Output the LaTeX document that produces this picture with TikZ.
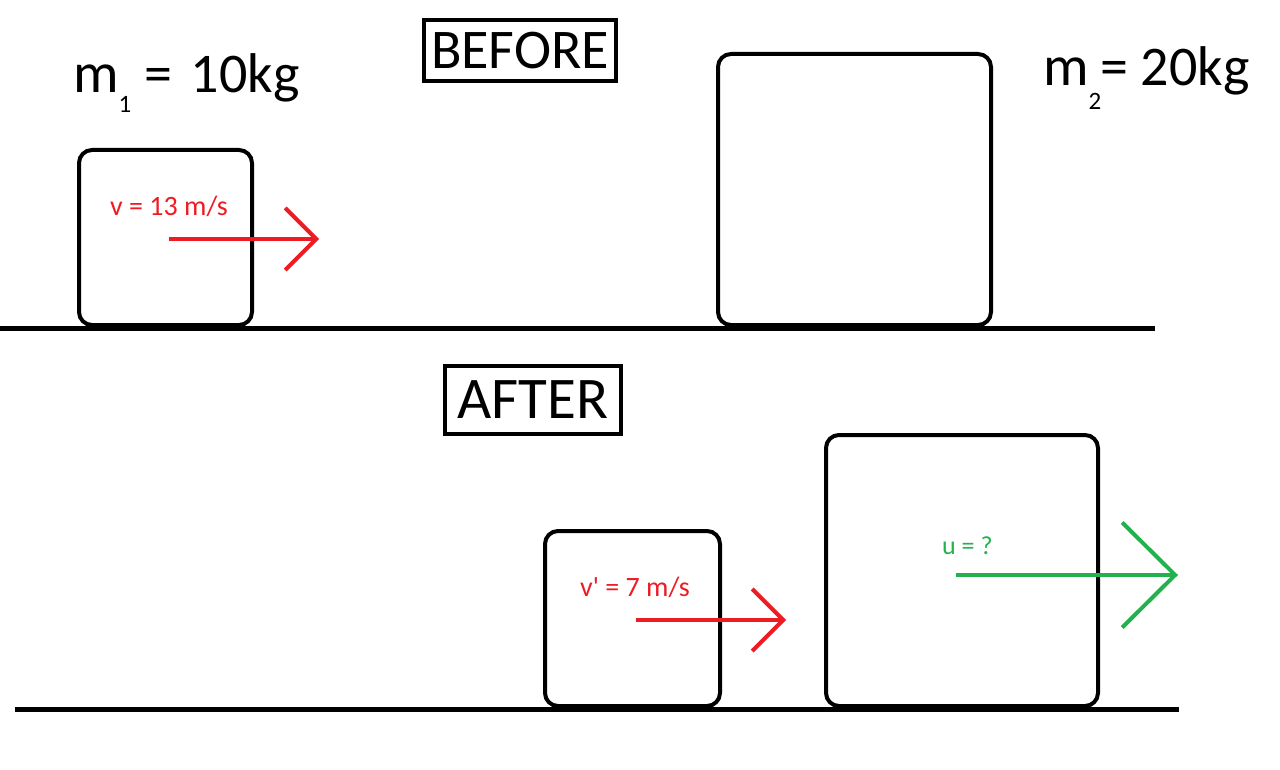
\documentclass[tikz,border=0pt]{standalone}
\usepackage{fontspec}
\setmainfont{Carlito}
\usetikzlibrary{arrows.meta}

\definecolor{paintred}{RGB}{237,28,36}
\definecolor{paintgreen}{RGB}{34,177,76}

\tikzset{
    block/.style={draw, line width=4pt, rounded corners=13pt, inner sep=0pt},
    title/.style={draw, line width=4pt, inner sep=0pt},
    ground/.style={line width=5pt},
    vel/.style={line width=4pt, -{Straight Barb[length=31pt,width=62pt]}},
    lbl/.style={anchor=base west, inner sep=0pt},
}

\begin{document}
\begin{tikzpicture}[x=1pt,y=-1pt]

    \useasboundingbox (0,0) rectangle (1280,770);

    % before
    \node[title, minimum width=192pt, minimum height=61pt, font=\fontsize{56}{56}\selectfont] (before) at (520,50.5) {BEFORE};
    \node[lbl] (m1) at (73,93) {\fontsize{57}{57}\selectfont m\raisebox{-20pt}{\fontsize{25}{25}\selectfont 1}\hspace{13pt}\fontsize{56}{56}\selectfont=\hspace{6pt} 10kg};
    \node[lbl] (m2) at (1043,86) {\fontsize{57}{57}\selectfont m\raisebox{-24pt}{\fontsize{25}{25}\selectfont 2}\hspace{-1pt}\fontsize{56}{56}\selectfont= 20kg};

    \coordinate (g1l) at (0,328);
    \coordinate (g1r) at (1155,328);
    \draw[ground] (g1l) -- (g1r); % floor

    \node[block, minimum width=173pt, minimum height=175pt] (box1) at (165.5,237.5) {};
    \node[block, minimum width=273pt, minimum height=271pt] (box2) at (854.5,189.5) {};

    \node[lbl, paintred, font=\fontsize{28}{28}\selectfont] (v1) at (110,216) {v = 13 m/s};
    \coordinate (v1s) at (169,239);
    \coordinate (v1e) at (319,239);
    \draw[vel, paintred] (v1s) -- (v1e); % v

    % after
    \node[title, minimum width=176pt, minimum height=68pt, font=\fontsize{59}{59}\selectfont] (after) at (533,400) {AFTER};

    \coordinate (g2l) at (15,709.5);
    \coordinate (g2r) at (1179,709.5);
    \draw[ground] (g2l) -- (g2r); % floor

    \node[block, minimum width=175pt, minimum height=175pt] (box3) at (632.5,618.5) {};
    \node[block, minimum width=272pt, minimum height=271pt] (box4) at (962,570.5) {};

    \node[lbl, paintred, font=\fontsize{28}{28}\selectfont] (v2) at (580,596) {v\textquotesingle{} = 7 m/s};
    \coordinate (v2s) at (636,620);
    \coordinate (v2e) at (786,620);
    \draw[vel, paintred] (v2s) -- (v2e); % v'

    \node[lbl, paintgreen, font=\fontsize{26}{26}\selectfont] (u) at (942,554) {u = ?};
    \coordinate (us) at (956,575);
    \coordinate (ue) at (1178,575);
    \draw[vel, paintgreen, -{Straight Barb[length=53pt,width=105pt]}] (us) -- (ue); % u

\end{tikzpicture}
\end{document}
